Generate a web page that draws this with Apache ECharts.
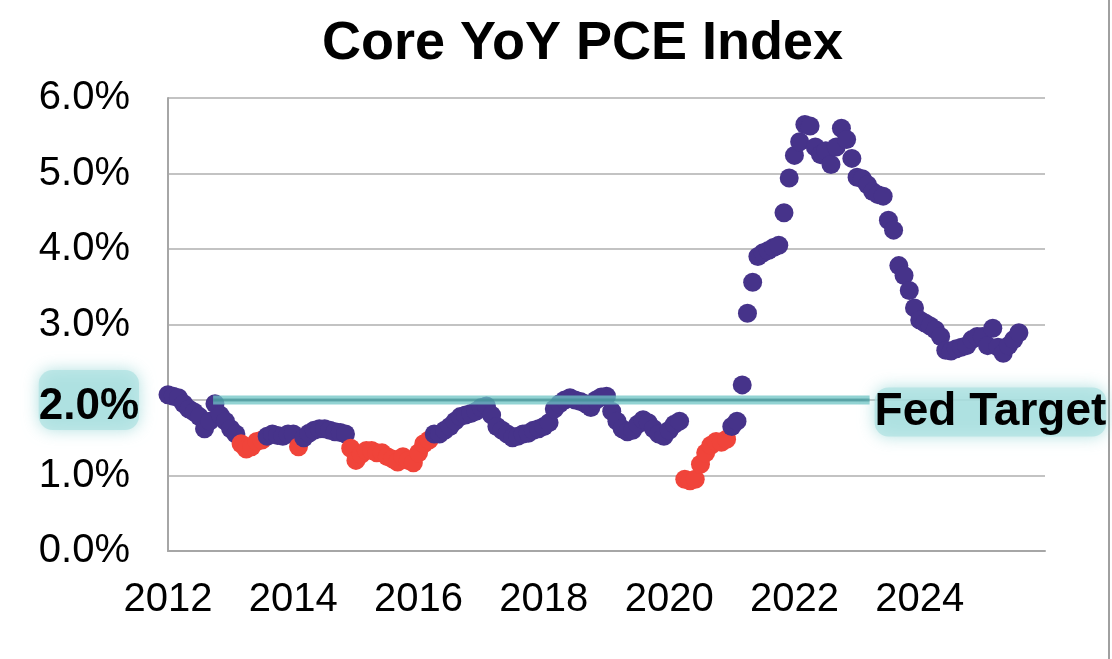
<!DOCTYPE html>
<html>
<head>
<meta charset="utf-8">
<script src="https://cdn.jsdelivr.net/npm/echarts@6/dist/echarts.min.js"></script>
<style>
html,body{margin:0;padding:0;background:#fff;}
#chart{width:1112px;height:659px;}
</style>
</head>
<body>
<div id="chart"></div>
<script>
// ---- Data (monthly Core PCE YoY %, starting Jan 2012) ----
const startYear = 2012;
const coreYoY = [
  // 2012
  2.07, 2.05, 2.03, 1.95, 1.88, 1.84, 1.78, 1.62, 1.72, 1.95, 1.80, 1.72,
  // 2013
  1.62, 1.55, 1.42, 1.35, 1.38, 1.45, 1.47, 1.52, 1.55, 1.53, 1.52, 1.55,
  // 2014
  1.55, 1.38, 1.50, 1.56, 1.60, 1.62, 1.62, 1.60, 1.58, 1.57, 1.55, 1.36,
  // 2015
  1.20, 1.28, 1.33, 1.33, 1.30, 1.30, 1.25, 1.22, 1.18, 1.25, 1.20, 1.17,
  // 2016
  1.30, 1.42, 1.47, 1.55, 1.55, 1.60, 1.65, 1.72, 1.78, 1.80, 1.82, 1.85,
  // 2017
  1.90, 1.92, 1.80, 1.65, 1.60, 1.55, 1.50, 1.52, 1.55, 1.56, 1.60, 1.62,
  // 2018
  1.65, 1.70, 1.88, 1.95, 2.00, 2.03, 2.00, 1.98, 1.95, 1.90, 2.00, 2.04,
  // 2019
  2.05, 1.85, 1.72, 1.62, 1.58, 1.60, 1.68, 1.74, 1.70, 1.62, 1.55, 1.52,
  // 2020
  1.60, 1.68, 1.72, 0.95, 0.93, 0.95, 1.15, 1.30, 1.40, 1.45, 1.44, 1.48,
  // 2021
  1.65, 1.72, 2.20, 3.15, 3.56, 3.90, 3.95, 3.98, 4.02, 4.05, 4.48, 4.94,
  // 2022
  5.24, 5.42, 5.65, 5.63, 5.35, 5.25, 5.30, 5.12, 5.35, 5.60, 5.45, 5.20,
  // 2023
  4.95, 4.93, 4.85, 4.76, 4.72, 4.70, 4.38, 4.25, 3.78, 3.65, 3.45, 3.22,
  // 2024
  3.06, 3.02, 2.98, 2.93, 2.84, 2.66, 2.65, 2.68, 2.70, 2.72, 2.80, 2.84,
  // 2025
  2.84, 2.72, 2.95, 2.70, 2.62, 2.72, 2.80, 2.89
];
const belowThreshold = 1.5;
const fedTargetValue = 2.0;
const fedTargetStart = 2012.72;
const fedTargetEnd = 2023.2;
const yTicks = [0, 1, 2, 3, 4, 5, 6];
const xTickYears = [2012, 2014, 2016, 2018, 2020, 2022, 2024];

const purple = '#46338a';
const red = '#f0443a';

const months = coreYoY.map((_, i) => startYear + i / 12);
const scatterData = months.map((t, i) => [t, coreYoY[i]]);
const fedLine = [[fedTargetStart, fedTargetValue], [fedTargetEnd, fedTargetValue]];

const chart = echarts.init(document.getElementById('chart'), null, {renderer: 'canvas'});
const FONT = '"Liberation Sans", Arial, Helvetica, sans-serif';

chart.setOption({
  animation: false,
  backgroundColor: '#ffffff',
  title: {
    text: 'Core YoY PCE Index',
    left: 317,
    top: 12,
    textStyle: {fontFamily: FONT, fontSize: 54, fontWeight: 'bold', color: '#000'}
  },
  graphic: [{
    type: 'rect', left: 1108, top: 0, z: 1,
    shape: {width: 2, height: 659},
    style: {fill: '#a0a0a0'}
  }],
  grid: {left: 168, right: 67, top: 98, bottom: 108, containLabel: false},
  xAxis: {
    type: 'value',
    min: 2012, max: 2026, interval: 2,
    axisLine: {show: true, lineStyle: {color: '#a6a6a6', width: 2}},
    axisTick: {show: false},
    splitLine: {show: false},
    axisLabel: {
      margin: 29,
      fontFamily: FONT, fontSize: 40, color: '#000',
      formatter: v => xTickYears.includes(v) ? String(v) : ''
    }
  },
  yAxis: {
    type: 'value',
    min: yTicks[0], max: yTicks[yTicks.length - 1], interval: 1,
    axisLine: {show: true, lineStyle: {color: '#a6a6a6', width: 2}},
    axisTick: {show: false},
    splitLine: {show: true, lineStyle: {color: '#c3c3c3', width: 2}},
    axisLabel: {
      margin: 29,
      fontFamily: FONT, fontSize: 40, color: '#000',
      formatter: v => v === fedTargetValue ? '{hl|' + v.toFixed(1) + '%}' : '{n|' + v.toFixed(1) + '%}',
      rich: {
        n: {
          fontFamily: FONT, fontSize: 40, color: '#000',
          padding: [0, 9, 0, 0]
        },
        hl: {
          fontFamily: FONT, fontSize: 44, fontWeight: 'bold', color: '#000',
          backgroundColor: 'rgba(172,225,225,0.7)',
          shadowColor: 'rgba(140,210,210,0.95)', shadowBlur: 16,
          borderRadius: 14, padding: [15, 0, 1, 0]
        }
      }
    }
  },
  series: [
    {
      type: 'scatter',
      name: 'Core PCE YoY',
      data: scatterData,
      symbol: 'circle',
      symbolSize: 19,
      itemStyle: {
        color: p => p.value[1] < belowThreshold ? red : purple,
        opacity: 1
      },
      z: 2
    },
    {
      type: 'line',
      name: 'Fed Target glow',
      data: fedLine,
      symbol: 'none',
      lineStyle: {color: 'rgba(110,196,196,0.75)', width: 9},
      z: 3, silent: true
    },
    {
      type: 'line',
      name: 'Fed Target',
      data: fedLine,
      symbol: 'none',
      lineStyle: {color: 'rgba(55,135,140,0.55)', width: 3},
      z: 4, silent: true,
      endLabel: {
        show: true,
        formatter: 'Fed Target',
        distance: 0,
        offset: [5, 12],
        fontFamily: FONT, fontSize: 46, fontWeight: 'bold', color: '#000',
        backgroundColor: 'rgba(172,225,225,0.7)',
        shadowColor: 'rgba(140,210,210,0.95)', shadowBlur: 16,
        borderRadius: 14, padding: [3, 0, 0, 0]
      }
    }
  ]
});
</script>
</body>
</html>
